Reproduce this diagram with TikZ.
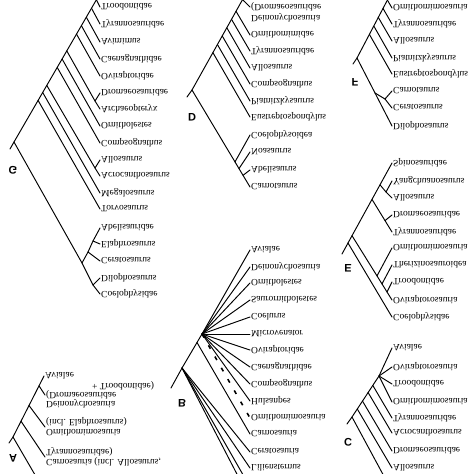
\documentclass[tikz,border=0pt]{standalone}
\usepackage{fontspec}
\setmainfont{Liberation Serif}
\setsansfont{Liberation Sans}

\begin{document}
\begin{tikzpicture}[x=1pt,y=-1pt,
  taxon/.style={font=\fontsize{9.5}{10}\selectfont,anchor=west,inner sep=1pt,yscale=-1},
  panel/.style={font=\sffamily\bfseries\fontsize{11}{13}\selectfont,inner sep=0pt,yscale=-1},
  branch/.style={line width=0.95pt,line cap=round},
  dashbr/.style={line width=1.6pt,dash pattern=on 4pt off 9pt}]
\useasboundingbox (0,0) rectangle (474,474);
\clip (0,0) rectangle (474,474);
\fill[white] (0,0) rectangle (474,474);
% ---- G ----
\node[panel] (gLet) at (13,170) {G};
\coordinate (gStub) at (10,149);
\coordinate (gR) at (14,142);
\coordinate (gTop) at (98,-3);
\draw[branch] (gStub) -- (gR) -- (gTop);
\node[taxon] (gTroo) at (100,7) {Troodontidae};
\node[taxon] (gTyra) at (100,24) {Tyrannosauridae};
\node[taxon] (gAvim) at (100,42) {Avimimus};
\node[taxon] (gCaen) at (100,59) {Caenagnathidae};
\node[taxon] (gOvir) at (100,76) {Oviraptoridae};
\node[taxon] (gDrom) at (100,93) {Dromaeosauridae};
\node[taxon] (gArch) at (100,109) {Archaeopteryx};
\node[taxon] (gOrni) at (100,126) {Ornitholestes};
\node[taxon] (gComp) at (100,143) {Compsognathus};
\node[taxon] (gAllo) at (100,160) {Allosaurus};
\node[taxon] (gAcro) at (100,176) {Acrocanthosaurus};
\node[taxon] (gMega) at (100,193) {Megalosaurus};
\node[taxon] (gTorv) at (100,209) {Torvosaurus};
\node[taxon] (gAbel) at (100,228) {Abelisauridae};
\node[taxon] (gElap) at (100,244) {Elaphrosaurus};
\node[taxon] (gCera) at (100,261) {Ceratosaurus};
\node[taxon] (gDilo) at (100,278) {Dilophosaurus};
\node[taxon] (gCoel) at (100,294) {Coelophysidae};
\coordinate (g1) at (96.4,-0.2);
\coordinate (g2) at (91.5,8.2);
\coordinate (g3) at (86.3,17.2);
\coordinate (g4) at (81.4,25.7);
\coordinate (g5) at (76.5,34.1);
\coordinate (g6) at (66.8,50.9);
\coordinate (g7) at (62.1,59.0);
\coordinate (g8) at (57.2,67.4);
\coordinate (g9) at (46.8,85.4);
\coordinate (g10) at (42.7,92.5);
\coordinate (g11) at (38.1,100.4);
\coordinate (gP1) at (95,101);
\coordinate (gP2) at (95,168);
\draw[branch] (g1) -- (gTroo.west);
\draw[branch] (g2) -- (gTyra.west);
\draw[branch] (g3) -- (gAvim.west);
\draw[branch] (g4) -- (gCaen.west);
\draw[branch] (g5) -- (gOvir.west);
\draw[branch] (g6) -- (gP1) -- (gArch.west);
\draw[branch] (gP1) -- (gDrom.west);
\draw[branch] (g7) -- (gOrni.west);
\draw[branch] (g8) -- (gComp.west);
\draw[branch] (g9) -- (gP2) -- (gAcro.west);
\draw[branch] (gP2) -- (gAllo.west);
\draw[branch] (g10) -- (gMega.west);
\draw[branch] (g11) -- (gTorv.west);
\coordinate (gC1) at (82,263);
\coordinate (gC2) at (93,285);
\coordinate (gC3) at (88,252);
\coordinate (gC4) at (93,241);
\draw[branch] (gR) -- (gC1) -- (gC2) -- (gCoel.west);
\draw[branch] (gC2) -- (gDilo.west);
\draw[branch] (gC1) -- (gC3) -- (gC4) -- (gAbel.west);
\draw[branch] (gC3) -- (gCera.west);
\draw[branch] (gC4) -- (gElap.west);
% ---- D ----
\node[panel] (dLet) at (192,117) {D};
\coordinate (dStub) at (187,97);
\coordinate (dR) at (192,90);
\coordinate (dTop) at (244,-3);
\draw[branch] (dStub) -- (dR) -- (dTop);
\node[taxon,align=left,font=\fontsize{9.5}{11}\selectfont] (dDein) at (250,7)
  {Deinonychosauria\\(Dromaeosauridae\\\hspace*{27pt}+ Troodontidae)};
\node[taxon] (dOrni) at (250,35) {Ornithomimidae};
\node[taxon] (dTyra) at (250,51) {Tyrannosauridae};
\node[taxon] (dAllo) at (250,68) {Allosaurus};
\node[taxon] (dComp) at (250,84) {Compsognathus};
\node[taxon] (dPiat) at (250,101) {Piatnitzkysaurus};
\node[taxon] (dEust) at (250,117) {Eustreptospondylus};
\node[taxon] (dCoel) at (250,135) {Coelophysoidea};
\node[taxon] (dNoas) at (250,152) {Noasaurus};
\node[taxon] (dAbel) at (250,170) {Abelisaurus};
\node[taxon] (dCarn) at (250,187) {Carnotaurus};
\coordinate (d1) at (242.5,-0.4);
\coordinate (d2) at (236,11.2);
\coordinate (d3) at (231.5,19.3);
\coordinate (d4) at (226.8,27.7);
\coordinate (d5) at (222.2,35.9);
\coordinate (d6) at (217.4,44.5);
\coordinate (d7) at (212.9,52.6);
\draw[branch] (d1) -- (dDein.west);
\draw[branch] (d2) -- (dOrni.west);
\draw[branch] (d3) -- (dTyra.west);
\draw[branch] (d4) -- (dAllo.west);
\draw[branch] (d5) -- (dComp.west);
\draw[branch] (d6) -- (dPiat.west);
\draw[branch] (d7) -- (dEust.west);
\coordinate (d8) at (235,161.9);
\coordinate (d9) at (239,168.6);
\coordinate (d10) at (243,175.3);
\draw[branch] (dR) -- (dCarn.west);
\draw[branch] (d8) -- (dCoel.west);
\draw[branch] (d9) -- (dNoas.west);
\draw[branch] (d10) -- (dAbel.west);
% ---- F ----
\node[panel] (fLet) at (355,82) {F};
\coordinate (fStub) at (353,64);
\coordinate (fR) at (357,58);
\coordinate (fTop) at (389,-3);
\draw[branch] (fStub) -- (fR) -- (fTop);
\node[taxon] (fOrni) at (392,8) {Ornithomimosauria};
\node[taxon] (fTyra) at (392,24) {Tyrannosauridae};
\node[taxon] (fAllo) at (392,41) {Allosaurus};
\node[taxon] (fPiat) at (392,58) {Piatnitzkysaurus};
\node[taxon] (fEust) at (392,74) {Eustreptospondylus};
\node[taxon] (fCarn) at (392,91) {Carnotaurus};
\node[taxon] (fCera) at (392,108) {Ceratosaurus};
\node[taxon] (fDilo) at (392,126) {Dilophosaurus};
\coordinate (f1) at (387.4,0.1);
\coordinate (f2) at (383.0,8.4);
\coordinate (f3) at (378.3,17.4);
\coordinate (f4) at (373.8,26.0);
\coordinate (f5) at (369.4,34.4);
\draw[branch] (f1) -- (fOrni.west);
\draw[branch] (f2) -- (fTyra.west);
\draw[branch] (f3) -- (fAllo.west);
\draw[branch] (f4) -- (fPiat.west);
\draw[branch] (f5) -- (fEust.west);
\coordinate (f6) at (375,93);
\coordinate (fP) at (385,99);
\draw[branch] (fR) -- (fDilo.west);
\draw[branch] (f6) -- (fP) -- (fCarn.west);
\draw[branch] (fP) -- (fCera.west);
% ---- B ----
\node[panel] (bLet) at (182,403) {B};
\coordinate (bStub) at (171,388);
\coordinate (bR) at (182,368);
\coordinate (bC) at (202,334);
\coordinate (bS) at (197,342.5);
\draw[branch] (bStub) -- (bR) -- (bC);
\node[taxon] (bAvia) at (250,250) {Avialae};
\node[taxon] (bDein) at (250,267) {Deinonychosauria};
\node[taxon] (bOrnl) at (250,283) {Ornitholestes};
\node[taxon] (bSaur) at (250,300) {Saurornitholestes};
\node[taxon] (bCoel) at (250,317) {Coelurus};
\node[taxon] (bMicr) at (250,334) {Microvenator};
\node[taxon] (bOvir) at (250,350) {Oviraptoridae};
\node[taxon] (bCaen) at (250,367) {Caenagnathidae};
\node[taxon] (bComp) at (250,384) {Compsognathus};
\node[taxon] (bHuls) at (250,401) {Hulsanpes};
\node[taxon] (bOrni) at (250,418) {Ornithomimosauria};
\node[taxon] (bCarn) at (250,434) {Carnosauria};
\node[taxon] (bCera) at (250,452) {Ceratosauria};
\node[taxon] (bLili) at (250,468) {Liliensternus};
\foreach \t in {bAvia,bDein,bOrnl,bSaur,bCoel,bMicr,bOvir,bCaen,bComp,bHuls}
  \draw[branch] (bC) -- (\t.west);
\draw[dashbr] (bC) -- (bOrni.west);
\draw[branch] (bS) -- (bCarn.west);
\coordinate (bX1) at (246,480);
\coordinate (bX2) at (240,480);
\draw[branch] (bR) -- (bCera.west);
\draw[branch] (bR) -- (bLili.west);
\draw[branch] (bR) -- (bX1);
\draw[branch] (bR) -- (bX2);
% ---- E ----
\node[panel] (eLet) at (348,268) {E};
\coordinate (eStub) at (342,254);
\coordinate (eR) at (348,243);
\node[taxon] (eSpin) at (392,163) {Spinosauridae};
\node[taxon] (eYang) at (392,181) {Yangchuanosaurus};
\node[taxon] (eAllo) at (392,198) {Allosaurus};
\node[taxon] (eDrom) at (392,215) {Dromaeosauridae};
\node[taxon] (eTyra) at (392,232) {Tyrannosauridae};
\node[taxon] (eOrni) at (392,248) {Ornithomimosauria};
\node[taxon] (eTher) at (392,265) {Therizinosauroidea};
\node[taxon] (eTroo) at (392,282) {Troodontidae};
\node[taxon] (eOvir) at (392,300) {Oviraptorosauria};
\node[taxon] (eCoel) at (392,317) {Coelophysidae};
\draw[branch] (eStub) -- (eR) -- (eSpin.west);
\coordinate (e1) at (380,184.8);
\coordinate (eP1) at (386,192);
\coordinate (e2) at (372,199.4);
\coordinate (eP2) at (385,220.6);
\coordinate (e3) at (352,235.7);
\coordinate (e4) at (377,275.9);
\coordinate (e5) at (382,283.9);
\coordinate (e6) at (387,292);
\draw[branch] (e1) -- (eP1) -- (eAllo.west);
\draw[branch] (eP1) -- (eYang.west);
\draw[branch] (e2) -- (eTyra.west);
\draw[branch] (eP2) -- (eDrom.west);
\draw[branch] (eR) -- (eCoel.west);
\draw[branch] (e3) -- (eOvir.west);
\draw[branch] (e4) -- (eOrni.west);
\draw[branch] (e5) -- (eTher.west);
\draw[branch] (e6) -- (eTroo.west);
% ---- C ----
\node[panel] (cLet) at (348,442) {C};
\coordinate (cStub) at (347,424);
\coordinate (cR) at (352,417);
\coordinate (cC) at (379,376);
\draw[branch] (cStub) -- (cR) -- (cC);
\node[taxon] (cAvia) at (392,348) {Avialae};
\node[taxon] (cOvir) at (392,367) {Oviraptorosauria};
\node[taxon] (cTroo) at (392,384) {Troodontidae};
\node[taxon] (cOrni) at (392,402) {Ornithomimosauria};
\node[taxon] (cTyra) at (392,418) {Tyrannosauridae};
\node[taxon] (cAcro) at (392,433) {Acrocanthosaurus};
\node[taxon] (cDrom) at (392,451) {Dromaeosauridae};
\node[taxon] (cAllo) at (392,468) {Allosaurus};
\foreach \t in {cAvia,cOvir,cTroo,cOrni}
  \draw[branch] (cC) -- (\t.west);
\coordinate (c1) at (372.8,385.4);
\coordinate (c2) at (368.1,392.5);
\coordinate (c3) at (362.5,401.1);
\coordinate (c4) at (357.3,409);
\coordinate (cX) at (386,480);
\draw[branch] (c1) -- (cTyra.west);
\draw[branch] (c2) -- (cAcro.west);
\draw[branch] (c3) -- (cDrom.west);
\draw[branch] (c4) -- (cAllo.west);
\draw[branch] (cR) -- (cX);
% ---- A ----
\node[panel] (aLet) at (13,458) {A};
\coordinate (aStub) at (9,443);
\coordinate (aR) at (13,437);
\node[taxon] (aAvia) at (44,376) {Avialae};
\node[taxon,align=left,font=\fontsize{9.5}{9}\selectfont] (aDein) at (45,395)
  {Deinonychosauria\\(Dromaeosauridae\\\hspace*{46pt}+ Troodontidae)};
\node[taxon,align=left,font=\fontsize{9.5}{10}\selectfont] (aOrni) at (45,427)
  {Ornithomimosauria\\(incl. Elaphrosaurus)};
\node[taxon,align=left,font=\fontsize{9.5}{10}\selectfont] (aCarn) at (45,457)
  {Carnosauria (incl. Allosaurus,\\Tyrannosauridae)};
\draw[branch] (aStub) -- (aR) -- (aAvia.west);
\coordinate (a1) at (21,421.2);
\coordinate (a2) at (29,405.5);
\coordinate (a3) at (39,385.8);
\coordinate (aX) at (38,480);
\draw[branch] (a1) -- (aCarn.west);
\draw[branch] (a2) -- (aOrni.west);
\draw[branch] (a3) -- (aDein.west);
\draw[branch] (aR) -- (aX);
\end{tikzpicture}
\end{document}
